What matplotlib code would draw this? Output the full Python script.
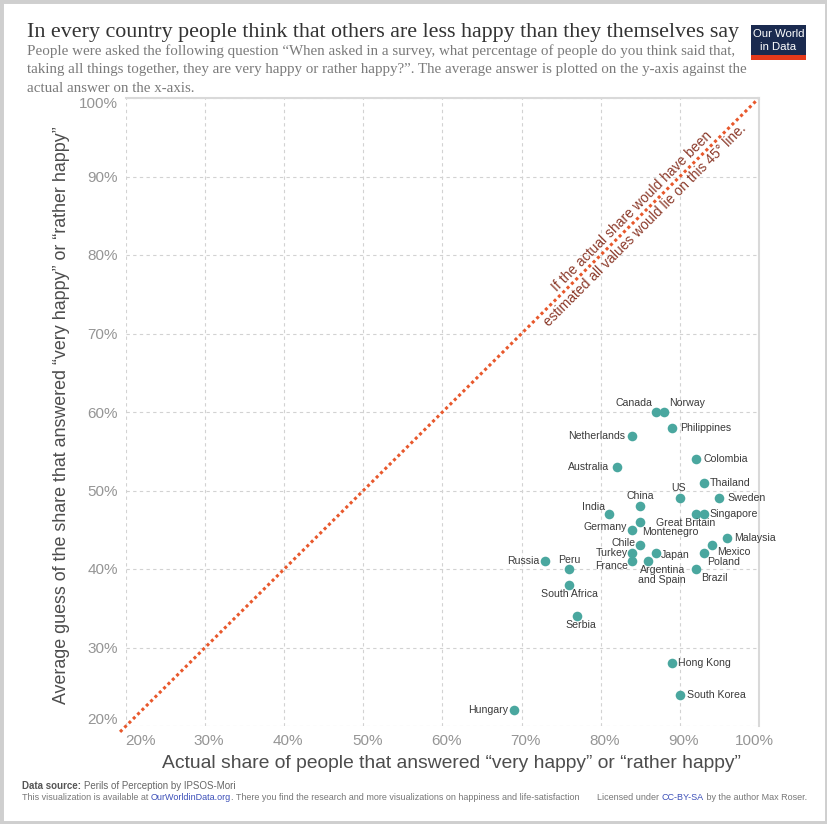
import matplotlib
matplotlib.use("Agg")
import matplotlib.pyplot as plt
from matplotlib.patches import Rectangle
from matplotlib.transforms import ScaledTranslation

# ---------------- data ----------------
countries = ["Canada", "Norway", "Philippines", "Netherlands", "Australia", "Colombia",
             "Thailand", "US", "Sweden", "China", "India", "Singapore", "Great Britain",
             "Germany", "Montenegro", "Chile", "Turkey", "France", "Japan",
             "Argentina\nand Spain", "Malaysia", "Mexico", "Poland", "Brazil", "Russia",
             "Peru", "South Africa", "Serbia", "Hong Kong", "South Korea", "Hungary"]
actual = [87, 88, 89, 84, 82, 92, 93, 90, 95, 85, 81, 93, 92, 84, 85, 85, 84, 84, 87,
          86, 96, 94, 93, 92, 73, 76, 76, 77, 89, 90, 69]
guess = [60, 60, 58, 57, 53, 54, 51, 49, 49, 48, 47, 47, 47, 45, 46, 43, 42, 41, 42,
         41, 44, 43, 42, 40, 41, 40, 38, 34, 28, 24, 22]
tick_values = [20, 30, 40, 50, 60, 70, 80, 90, 100]
tick_labels = [f"{v}%" for v in tick_values]

# label placement (style): offset in pixels, horizontal alignment
label_style = {
    "Canada": (-4, 9, "right"), "Norway": (5, 9, "left"), "Philippines": (8, 0, "left"),
    "Netherlands": (-7, 0, "right"), "Australia": (-7, 0, "right"),
    "Colombia": (8, 0, "left"), "Thailand": (6, 0, "left"), "US": (-1, 10, "center"),
    "Sweden": (8, 0, "left"), "China": (0, 10, "center"), "India": (-4, 7, "right"),
    "Singapore": (6, 0, "left"), "Great Britain": (-10, -9, "center"),
    "Germany": (-6, 3, "right"), "Montenegro": (2, -10, "left"),
    "Chile": (-5, 2, "right"), "Turkey": (-5, 0, "right"), "France": (-4, -5, "right"),
    "Japan": (5, -2, "left"), "Argentina\nand Spain": (14, -14, "center"),
    "Malaysia": (7, 0, "left"), "Mexico": (6, -7, "left"), "Poland": (4, -9, "left"),
    "Brazil": (5, -9, "left"), "Russia": (-6, 0, "right"), "Peru": (0, 9, "center"),
    "South Africa": (0, -9, "center"), "Serbia": (4, -9, "center"),
    "Hong Kong": (6, 0, "left"), "South Korea": (7, 0, "left"), "Hungary": (-6, 0, "right"),
}
# small pixel shifts of tick labels (style), keyed by tick value
xtick_shift = {20: 14, 100: -5}
ytick_shift = {20: 8, 100: -5}

W, H = 828, 824
fig = plt.figure(figsize=(W / 100, H / 100), dpi=100)
fig.patch.set_facecolor("white")

def fx(px):
    return px / W

def fy(py):
    return 1 - py / H

SANS = ["Liberation Sans", "DejaVu Sans"]
SERIF = ["Liberation Serif", "DejaVu Serif"]

L, R, T, B = 126, 759, 98, 726
ax = fig.add_axes([fx(L), fy(B), fx(R) - fx(L), fy(T) - fy(B)])
ax.set_xlim(20, 100)
ax.set_ylim(20, 100)
ax.set_xticks(tick_values)
ax.set_yticks(tick_values)
ax.set_xticklabels(tick_labels, fontsize=11, color="#959595", family=SANS)
ax.set_yticklabels(tick_labels, fontsize=11, color="#959595", family=SANS)
ax.tick_params(length=0, pad=6)
for v, lab in zip(tick_values, ax.get_xticklabels()):
    dx = xtick_shift.get(v, 4)
    lab.set_transform(lab.get_transform() + ScaledTranslation(dx / 100, 0, fig.dpi_scale_trans))
for v, lab in zip(tick_values, ax.get_yticklabels()):
    dy = ytick_shift.get(v, 0)
    lab.set_transform(lab.get_transform() + ScaledTranslation(0, dy / 100, fig.dpi_scale_trans))
ax.grid(True, linestyle=(0, (3, 3)), color="#d2d2d2", linewidth=0.8)
ax.set_axisbelow(True)
for s in ["left", "bottom"]:
    ax.spines[s].set_visible(False)
for s in ["top", "right"]:
    ax.spines[s].set_color("#d9d9d9")
    ax.spines[s].set_linewidth(1.5)

# 45 degree line
ax.plot([19.25, 100], [19.25, 100], linestyle=(0, (1, 1)), color="#e8582c",
        linewidth=2.2, clip_on=False, zorder=2)
ax.text(83.9, 85.6, "If the actual share would have been", rotation=45,
        rotation_mode="anchor", ha="center", va="center", fontsize=10,
        color="#8c3b2b", family=SANS)
ax.text(85.6, 83.8, "estimated all values would lie on this 45° line.", rotation=45,
        rotation_mode="anchor", ha="center", va="center", fontsize=10,
        color="#8c3b2b", family=SANS)

ax.scatter(actual, guess, s=48, color="#4aa79f", zorder=3, linewidths=0)
for name, xv, yv in zip(countries, actual, guess):
    dx, dy, ha = label_style[name]
    ax.annotate(name, (xv, yv), xytext=(dx, dy), textcoords="offset pixels",
                ha=ha, va="center", fontsize=7.6, color="#3a3a3a", family=SANS,
                linespacing=1.0, zorder=4)

# axis titles
fig.text(fx(451), fy(763), "Actual share of people that answered “very happy” or “rather happy”",
         ha="center", va="center", fontsize=13.9, color="#4d4d4d", family=SANS)
fig.text(fx(62), fy(415), "Average guess of the share that answered “very happy” or “rather happy”",
         ha="center", va="center", rotation=90, fontsize=12.9, color="#4d4d4d", family=SANS)

# title & subtitle
fig.text(fx(27), fy(33), "In every country people think that others are less happy than they themselves say",
         ha="left", va="center", fontsize=15.8, color="#333333", family=SERIF)
subtitle = ["People were asked the following question “When asked in a survey, what percentage of people do you think said that,",
            "taking all things together, they are very happy or rather happy?”. The average answer is plotted on the y-axis against the",
            "actual answer on the x-axis."]
for i, line in enumerate(subtitle):
    fig.text(fx(27), fy(51 + 18.5 * i), line, ha="left", va="center", fontsize=10.8,
             color="#7a7a7a", family=SERIF)

# logo
fig.patches.append(Rectangle((fx(751), fy(60)), fx(806) - fx(751), fy(25) - fy(60),
                             transform=fig.transFigure, facecolor="#1a2a4f",
                             edgecolor="none", zorder=5))
fig.patches.append(Rectangle((fx(751), fy(60)), fx(806) - fx(751), fy(55) - fy(60),
                             transform=fig.transFigure, facecolor="#e4391b",
                             edgecolor="none", zorder=6))
fig.text(fx(778.5), fy(34), "Our World", ha="center", va="center", fontsize=8.2,
         color="white", family=SANS, zorder=7)
fig.text(fx(778.5), fy(47), "in Data", ha="center", va="center", fontsize=8.2,
         color="white", family=SANS, zorder=7)

# footer
renderer = fig.canvas.get_renderer()

def seq_text(x_px, y_px, pieces, size):
    x = x_px
    for txt, color, weight in pieces:
        t = fig.text(fx(x), fy(y_px), txt, ha="left", va="center", fontsize=size,
                     color=color, fontweight=weight, family=SANS)
        bb = t.get_window_extent(renderer=renderer)
        x += bb.width
    return x

seq_text(22, 786, [("Data source: ", "#555555", "bold"),
                   ("Perils of Perception by IPSOS-Mori", "#666666", "normal")], 7)
seq_text(22, 797, [("This visualization is available at ", "#777777", "normal"),
                   ("OurWorldinData.org", "#3c4fb8", "normal"),
                   (". There you find the research and more visualizations on happiness and life-satisfaction",
                    "#777777", "normal")], 6.45)
# right-aligned licence line
pieces = [("Licensed under ", "#777777"), ("CC-BY-SA", "#3c4fb8"),
          (" by the author Max Roser.", "#777777")]
widths = []
for txt, c in pieces:
    t = fig.text(0, 0, txt, fontsize=6.45, family=SANS)
    widths.append(t.get_window_extent(renderer=renderer).width)
    t.remove()
x0 = 807 - sum(widths)
for (txt, c), w in zip(pieces, widths):
    fig.text(fx(x0), fy(797), txt, ha="left", va="center", fontsize=6.45, color=c, family=SANS)
    x0 += w

# frame around figure
fig.patches.append(Rectangle((0, 0), 1, 1, transform=fig.transFigure, fill=False,
                             edgecolor="#cfcfcf", linewidth=5, zorder=10))

fig.savefig("out.png", dpi=100, facecolor="white")
